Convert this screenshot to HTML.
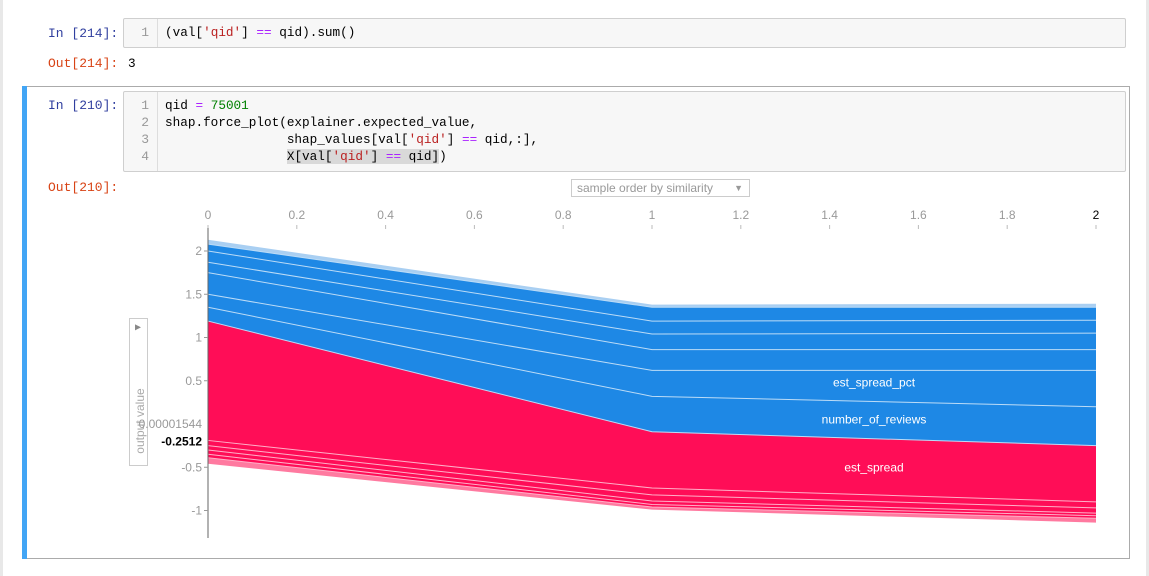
<!DOCTYPE html>
<html><head><meta charset="utf-8"><style>
body{margin:0;width:1149px;height:576px;background:#fff;font-family:"Liberation Mono",monospace;overflow:hidden;position:relative}
.abs{position:absolute}
.prompt{font-size:13px;color:#303f9f}
.outp{font-size:13px;color:#d84315}
.code{background:#f7f7f7;border:1px solid #cfcfcf;border-radius:2px}
.ln{color:#999;font-size:13px;text-align:right;width:22px}
.ct{font-size:12.7px;color:#000;white-space:pre;line-height:17px}
.s{color:#ba2121}.o{color:#aa22ff}.n{color:#008000}
</style></head><body>
<div class="abs" style="left:0;top:0;width:3px;height:576px;background:#e8e8e8"></div>
<div class="abs" style="left:1146px;top:0;width:3px;height:576px;background:#e8e8e8"></div>

<div class="abs prompt" style="left:48px;top:26px">In [214]:</div>
<div class="abs code" style="left:123px;top:18px;width:1001px;height:28px">
 <div class="abs" style="left:33px;top:0;width:1px;height:28px;background:#ddd"></div>
 <div class="abs ln" style="left:3px;top:6px">1</div>
 <div class="abs ct" style="left:41px;top:5px"><span>(</span>val[<span class="s">'qid'</span>] <span class="o">==</span> qid).sum()</div>
</div>
<div class="abs outp" style="left:48px;top:56px">Out[214]:</div>
<div class="abs ct" style="left:128px;top:55px">3</div>

<div class="abs" style="left:22px;top:86px;width:1107px;height:471px;border:1px solid #ababab;border-left:none"></div>
<div class="abs" style="left:22px;top:86px;width:5px;height:473px;background:#42a5f5"></div>
<div class="abs prompt" style="left:48px;top:98px">In [210]:</div>
<div class="abs code" style="left:123px;top:91px;width:1001px;height:79px">
 <div class="abs" style="left:33px;top:0;width:1px;height:79px;background:#ddd"></div>
 <div class="abs ln" style="left:3px;top:5px;line-height:17px">1<br>2<br>3<br>4</div>
 <div class="abs ct" style="left:41px;top:5px">qid <span class="o">=</span> <span class="n">75001</span>
shap.force_plot(explainer.expected_value,
                shap_values[val[<span class="s">'qid'</span>] <span class="o">==</span> qid,:],
                <span style="background:#d9d9d9">X[val[<span class="s">'qid'</span>] <span class="o">==</span> qid]</span>)</div>
</div>
<div class="abs outp" style="left:48px;top:180px">Out[210]:</div>

<div class="abs" style="left:571px;top:179px;width:177px;height:16px;border:1px solid #ccc;font:12px 'Liberation Sans',sans-serif;color:#999;line-height:16px"><span style="margin-left:5px">sample order by similarity</span><span style="position:absolute;right:6px;font-size:9px">▼</span></div>

<div class="abs" style="left:129px;top:318px;width:17px;height:146px;border:1px solid #ccc;"><div style="position:absolute;left:5px;top:3px;font-size:10px;color:#888">▶</div><div style="position:absolute;left:-60px;top:95px;width:140px;transform:rotate(-90deg);font:12px 'Liberation Sans',sans-serif;color:#aaa;text-align:center">output value</div></div>

<svg class="abs" style="left:0;top:0" width="1149" height="576" id="svg"></svg>
<script>
const samples=[0,1,2];
// boundaries top to bottom, values per sample
const blueBounds=[
 [2.13,1.38,1.39],[2.08,1.35,1.35],[2.0,1.19,1.2],[1.87,1.04,1.05],[1.75,0.86,0.86],[1.5,0.62,0.62],[1.35,0.32,0.2]];
const outputValues=[1.19,-0.09,-0.25];
const redBounds=[[-0.19,-0.74,-0.9],[-0.25,-0.82,-0.97],[-0.3,-0.89,-1.03],[-0.35,-0.93,-1.06],[-0.39,-0.96,-1.09],[-0.46,-0.99,-1.14]];
const xTicks=[0,0.2,0.4,0.6,0.8,1,1.2,1.4,1.6,1.8,2];
const yTicks=[2,1.5,1,0.5,-0.5,-1];
const featureLabels=["est_spread_pct","number_of_reviews","est_spread"];
const labelVals=[0.48,0.05,-0.5];
const X=v=>208+444*v, Y=v=>424-86.5*v;
const svg=document.getElementById('svg');const NS='http://www.w3.org/2000/svg';
function mk(t,a,p){const e=document.createElementNS(NS,t);for(const k in a)e.setAttribute(k,a[k]);(p||svg).appendChild(e);return e;}
const defs=mk('clipPath',{id:'cp'});mk('rect',{x:0,y:0,width:1096,height:576},defs);
const g=mk('g',{'clip-path':'url(#cp)'});

function band(top,bot,fill,name){
 let d='M'+samples.map((s,i)=>X(s)+','+Y(top[i])).join('L');
 for(let i=samples.length-1;i>=0;i--)d+='L'+X(samples[i])+','+Y(bot[i]);
 const p=mk('path',{d:d+'Z',fill:fill},g);
 
}
function line(v,c,name){const p=mk('path',{d:'M'+samples.map((s,i)=>X(s)+','+Y(v[i])).join('L'),fill:'none',stroke:c,'stroke-width':1},g);
 }
const bb=blueBounds.concat([outputValues]);
for(let i=0;i<bb.length-1;i++)band(bb[i],bb[i+1],i==0?'#a9cff2':'#1e88e5','blue-feature-band');
const rb=[outputValues].concat(redBounds);
for(let i=0;i<rb.length-1;i++)band(rb[i],rb[i+1],i>=rb.length-2?'#ff7aa0':'#ff0d57','red-feature-band');
for(let i=1;i<bb.length;i++)line(bb[i],'#bcdcf7','blue-separator');
for(let i=1;i<rb.length-1;i++)line(rb[i],'#ffb0c8','red-separator');
featureLabels.forEach((f,i)=>{const t=mk('text',{x:874,y:Y(labelVals[i])+4,'text-anchor':'middle',fill:'#fff','font-size':12,'font-family':'Liberation Sans,sans-serif'});t.textContent=f;
 });
xTicks.forEach(v=>{const t=mk('text',{x:X(v),y:219,'text-anchor':'middle',fill:v==2?'#000':'#999','font-size':12,'font-family':'Liberation Sans,sans-serif'});t.textContent=v;
 
 mk('line',{x1:X(v),x2:X(v),y1:225,y2:229,stroke:'#bbb'});});
const ax=mk('line',{x1:208,x2:208,y1:228,y2:538,stroke:'#666'});

yTicks.forEach(v=>{const t=mk('text',{x:202,y:Y(v)+4,'text-anchor':'end',fill:'#999','font-size':12,'font-family':'Liberation Sans,sans-serif'});t.textContent=v;
 
 mk('line',{x1:204,x2:208,y1:Y(v),y2:Y(v),stroke:'#999'});});
let t=mk('text',{x:202,y:Y(0.00001544)+4,'text-anchor':'end',fill:'#999','font-size':12,'font-family':'Liberation Sans,sans-serif'});t.textContent='0.00001544';

t=mk('text',{x:202,y:Y(-0.2512),'text-anchor':'end',fill:'#000','font-size':12,'font-weight':'bold','font-family':'Liberation Sans,sans-serif'});t.textContent='-0.2512';

</script>
</body></html>
